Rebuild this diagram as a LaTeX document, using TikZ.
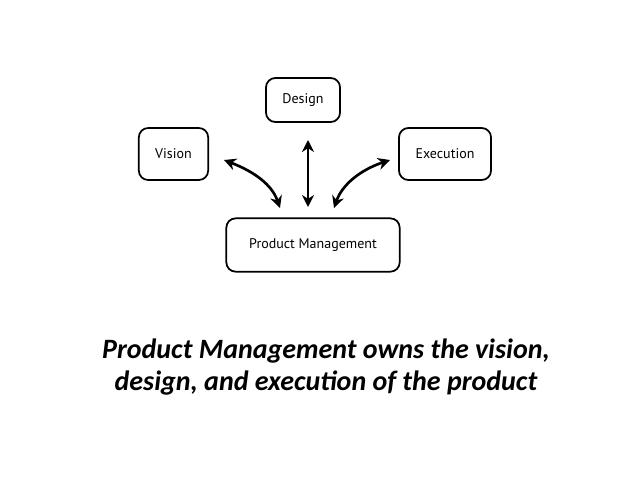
\documentclass[tikz,border=0pt]{standalone}
\usepackage{fontspec}
\setmainfont{Carlito}
\newfontfamily\boxfont{PT Sans}
\usetikzlibrary{arrows.meta}
\begin{document}
\begin{tikzpicture}[x=0.75pt,y=-0.75pt,
  box/.style={draw, line width=1.3pt, rounded corners=7pt, font=\boxfont\fontsize{10.5}{12}\selectfont, inner sep=0pt},
  conn/.style={line width=2pt, {Stealth[length=9pt,width=9pt]}-{Stealth[length=9pt,width=9pt]}}]
\useasboundingbox (0,0) rectangle (638,478);
\node[box, minimum width=55.5pt, minimum height=33pt] (design) at (303,100) {Design};
\node[box, minimum width=52pt, minimum height=39pt] (vision) at (173.5,154) {Vision};
\node[box, minimum width=69pt, minimum height=39pt] (exec) at (445,154) {Execution};
\node[box, minimum width=130pt, minimum height=40pt] (pm) at (313,245) {Product Management};
\coordinate (v1) at (224,160);
\coordinate (v2) at (280,208);
\coordinate (e1) at (390,160);
\coordinate (e2) at (334,208);
\coordinate (d1) at (308,140);
\coordinate (d2) at (308,207);
\draw[conn] (v1) .. controls (255,172) and (272,185) .. (v2);
\draw[conn] (d1) -- (d2);
\draw[conn] (e1) .. controls (360,170) and (342,185) .. (e2);
\node[font=\bfseries\itshape\fontsize{21}{24}\selectfont, align=center] (cap) at (326,367) {Product Management owns the vision,\\design, and execution of the product};
\end{tikzpicture}
\end{document}
